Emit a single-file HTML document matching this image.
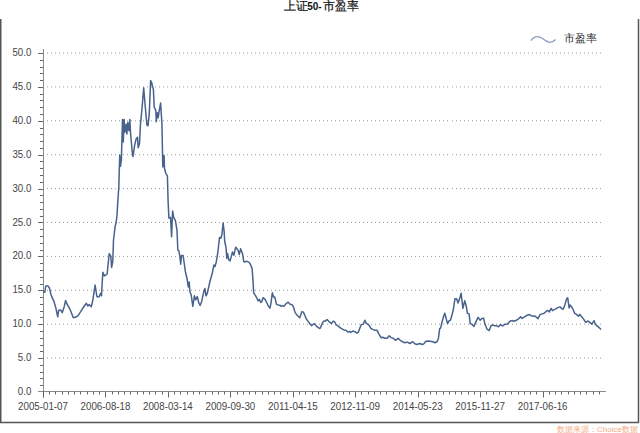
<!DOCTYPE html>
<html><head><meta charset="utf-8"><style>
html,body{margin:0;padding:0;background:#fff;width:640px;height:433px;overflow:hidden}
svg{display:block}
text{font-family:"Liberation Sans",sans-serif}
.yl{font-size:10.5px;fill:#454545}
.xl{font-size:10.2px;fill:#454545}
.lg{font-size:10.5px;fill:#333}
.tt{font-size:10px;font-weight:bold;fill:#111}
.tc{font-size:11.5px;font-weight:normal;fill:#111;stroke:#111;stroke-width:0.2px}
.src{font-size:8px;fill:#f2ab85}
</style></head><body>
<svg width="640" height="433" viewBox="0 0 640 433">
<path d="M0.75 19V422.5H638.5V19" fill="none" stroke="#555" stroke-width="1.5"/>
<path d="M47 358.10H450M452 358.10H601 M47 324.20H450M452 324.20H601 M47 290.30H450M452 290.30H601 M47 256.40H450M452 256.40H601 M47 222.50H450M452 222.50H601 M47 188.60H450M452 188.60H601 M47 154.70H450M452 154.70H601 M47 120.80H450M452 120.80H601 M47 86.90H450M452 86.90H601 M47 53.00H450M452 53.00H601" stroke="#999" stroke-width="1" stroke-dasharray="1 3" fill="none"/>
<path d="M43.5 49V391M38 391.5H606" stroke="#8a8a8a" stroke-width="1" fill="none"/>
<path d="M43.5 391V397.5 M40 385.5H43 M40 378.5H43 M40 372.5H43 M40 365.5H43 M38 358.5H43 M40 351.5H43 M40 345.5H43 M40 338.5H43 M40 331.5H43 M38 324.5H43 M40 317.5H43 M40 311.5H43 M40 304.5H43 M40 297.5H43 M38 290.5H43 M40 284.5H43 M40 277.5H43 M40 270.5H43 M40 263.5H43 M38 256.5H43 M40 250.5H43 M40 243.5H43 M40 236.5H43 M40 229.5H43 M38 222.5H43 M40 216.5H43 M40 209.5H43 M40 202.5H43 M40 195.5H43 M38 189.5H43 M40 182.5H43 M40 175.5H43 M40 168.5H43 M40 161.5H43 M38 155.5H43 M40 148.5H43 M40 141.5H43 M40 134.5H43 M40 128.5H43 M38 121.5H43 M40 114.5H43 M40 107.5H43 M40 100.5H43 M40 94.5H43 M38 87.5H43 M40 80.5H43 M40 73.5H43 M40 67.5H43 M40 60.5H43 M38 53.5H43 M43.5 391.5V397.5 M49.5 391.5V394.5 M55.5 391.5V394.5 M62.5 391.5V394.5 M68.5 391.5V394.5 M74.5 391.5V394.5 M80.5 391.5V394.5 M87.5 391.5V394.5 M93.5 391.5V394.5 M99.5 391.5V394.5 M105.5 391.5V397.5 M112.5 391.5V394.5 M118.5 391.5V394.5 M124.5 391.5V394.5 M130.5 391.5V394.5 M137.5 391.5V394.5 M143.5 391.5V394.5 M149.5 391.5V394.5 M155.5 391.5V394.5 M162.5 391.5V394.5 M168.5 391.5V397.5 M174.5 391.5V394.5 M180.5 391.5V394.5 M187.5 391.5V394.5 M193.5 391.5V394.5 M199.5 391.5V394.5 M205.5 391.5V394.5 M212.5 391.5V394.5 M218.5 391.5V394.5 M224.5 391.5V394.5 M230.5 391.5V397.5 M237.5 391.5V394.5 M243.5 391.5V394.5 M249.5 391.5V394.5 M255.5 391.5V394.5 M262.5 391.5V394.5 M268.5 391.5V394.5 M274.5 391.5V394.5 M280.5 391.5V394.5 M287.5 391.5V394.5 M293.5 391.5V397.5 M299.5 391.5V394.5 M305.5 391.5V394.5 M312.5 391.5V394.5 M318.5 391.5V394.5 M324.5 391.5V394.5 M330.5 391.5V394.5 M337.5 391.5V394.5 M343.5 391.5V394.5 M349.5 391.5V394.5 M355.5 391.5V397.5 M361.5 391.5V394.5 M368.5 391.5V394.5 M374.5 391.5V394.5 M380.5 391.5V394.5 M386.5 391.5V394.5 M393.5 391.5V394.5 M399.5 391.5V394.5 M405.5 391.5V394.5 M411.5 391.5V394.5 M418.5 391.5V397.5 M424.5 391.5V394.5 M430.5 391.5V394.5 M436.5 391.5V394.5 M443.5 391.5V394.5 M449.5 391.5V394.5 M455.5 391.5V394.5 M461.5 391.5V394.5 M468.5 391.5V394.5 M474.5 391.5V394.5 M480.5 391.5V397.5 M486.5 391.5V394.5 M493.5 391.5V394.5 M499.5 391.5V394.5 M505.5 391.5V394.5 M511.5 391.5V394.5 M518.5 391.5V394.5 M524.5 391.5V394.5 M530.5 391.5V394.5 M536.5 391.5V394.5 M543.5 391.5V397.5 M549.5 391.5V394.5 M555.5 391.5V394.5 M561.5 391.5V394.5 M568.5 391.5V394.5 M574.5 391.5V394.5 M580.5 391.5V394.5 M586.5 391.5V394.5 M593.5 391.5V394.5 M599.5 391.5V394.5" stroke="#666" stroke-width="1" fill="none"/>
<text x="31.3" y="395.0" text-anchor="end" class="yl" textLength="13.51" lengthAdjust="spacingAndGlyphs">0.0</text>
<text x="31.3" y="361.1" text-anchor="end" class="yl" textLength="13.51" lengthAdjust="spacingAndGlyphs">5.0</text>
<text x="31.3" y="327.2" text-anchor="end" class="yl" textLength="18.92" lengthAdjust="spacingAndGlyphs">10.0</text>
<text x="31.3" y="293.3" text-anchor="end" class="yl" textLength="18.92" lengthAdjust="spacingAndGlyphs">15.0</text>
<text x="31.3" y="259.4" text-anchor="end" class="yl" textLength="18.92" lengthAdjust="spacingAndGlyphs">20.0</text>
<text x="31.3" y="225.5" text-anchor="end" class="yl" textLength="18.92" lengthAdjust="spacingAndGlyphs">25.0</text>
<text x="31.3" y="191.6" text-anchor="end" class="yl" textLength="18.92" lengthAdjust="spacingAndGlyphs">30.0</text>
<text x="31.3" y="157.7" text-anchor="end" class="yl" textLength="18.92" lengthAdjust="spacingAndGlyphs">35.0</text>
<text x="31.3" y="123.8" text-anchor="end" class="yl" textLength="18.92" lengthAdjust="spacingAndGlyphs">40.0</text>
<text x="31.3" y="89.9" text-anchor="end" class="yl" textLength="18.92" lengthAdjust="spacingAndGlyphs">45.0</text>
<text x="31.3" y="56.0" text-anchor="end" class="yl" textLength="18.92" lengthAdjust="spacingAndGlyphs">50.0</text>
<text x="43.0" y="410.4" text-anchor="middle" class="xl" textLength="49.76" lengthAdjust="spacingAndGlyphs">2005-01-07</text>
<text x="105.5" y="410.4" text-anchor="middle" class="xl" textLength="49.76" lengthAdjust="spacingAndGlyphs">2006-08-18</text>
<text x="167.9" y="410.4" text-anchor="middle" class="xl" textLength="49.76" lengthAdjust="spacingAndGlyphs">2008-03-14</text>
<text x="230.4" y="410.4" text-anchor="middle" class="xl" textLength="49.76" lengthAdjust="spacingAndGlyphs">2009-09-30</text>
<text x="292.8" y="410.4" text-anchor="middle" class="xl" textLength="49.76" lengthAdjust="spacingAndGlyphs">2011-04-15</text>
<text x="355.2" y="410.4" text-anchor="middle" class="xl" textLength="49.76" lengthAdjust="spacingAndGlyphs">2012-11-09</text>
<text x="417.7" y="410.4" text-anchor="middle" class="xl" textLength="49.76" lengthAdjust="spacingAndGlyphs">2014-05-23</text>
<text x="480.2" y="410.4" text-anchor="middle" class="xl" textLength="49.76" lengthAdjust="spacingAndGlyphs">2015-11-27</text>
<text x="542.6" y="410.4" text-anchor="middle" class="xl" textLength="49.76" lengthAdjust="spacingAndGlyphs">2017-06-16</text>
<path d="M43.0 291.5 L44.8 292.2 L45.8 285.9 L48.0 285.9 L49.4 288.0 L51.1 295.0 L52.5 298.4 L53.9 301.2 L55.9 308.1 L57.7 316.8 L58.7 310.2 L60.5 309.9 L62.2 312.7 L64.2 306.7 L65.6 300.5 L67.0 304.0 L69.8 308.8 L73.3 317.8 L76.0 317.1 L78.1 315.7 L81.6 310.2 L84.3 306.0 L86.4 303.3 L87.8 306.0 L89.2 304.6 L91.3 306.7 L92.9 299.8 L95.1 285.0 L96.9 296.6 L99.0 296.9 L100.7 293.3 L101.5 295.8 L102.8 272.3 L104.4 275.9 L107.1 274.0 L109.2 253.7 L110.8 256.2 L111.6 267.5 L112.8 261.0 L113.5 240.0 L115.2 225.8 L116.1 222.9 L117.0 215.4 L117.8 201.5 L118.8 187.0 L119.3 170.0 L119.8 155.0 L120.4 166.3 L121.4 159.8 L122.5 119.4 L123.3 142.0 L124.1 119.4 L124.9 132.3 L126.2 124.2 L126.9 134.0 L127.8 122.6 L129.0 130.7 L129.8 119.4 L130.6 134.0 L132.2 151.7 L133.0 156.6 L134.6 145.3 L136.2 138.8 L137.5 137.2 L138.2 147.7 L139.5 143.6 L140.4 125.0 L142.0 108.8 L143.7 87.8 L145.3 107.2 L146.9 125.0 L148.0 125.8 L149.3 113.6 L150.6 80.5 L151.7 82.9 L152.5 86.2 L153.4 89.4 L154.2 107.2 L155.8 110.4 L156.3 121.7 L157.4 112.8 L158.2 117.7 L159.3 110.4 L160.6 103.1 L161.9 123.3 L162.5 152.3 L162.8 166.9 L164.1 155.6 L164.5 168.5 L165.8 173.3 L167.4 175.8 L168.1 201.2 L168.9 218.1 L170.5 217.3 L171.6 236.7 L172.6 210.9 L173.7 217.3 L175.4 220.6 L177.0 230.3 L177.8 249.7 L179.0 251.3 L179.8 256.2 L180.7 264.2 L181.5 255.4 L183.1 255.4 L183.9 261.0 L185.5 272.3 L187.1 278.8 L188.3 286.9 L189.2 282.0 L189.9 291.7 L191.2 295.0 L192.8 306.3 L194.4 295.8 L195.7 299.8 L197.3 296.6 L198.9 303.0 L200.1 305.5 L201.7 301.4 L203.8 291.7 L204.9 288.5 L206.0 295.8 L207.3 293.3 L209.8 282.0 L212.3 273.0 L213.9 265.0 L215.0 266.6 L216.3 261.7 L217.9 252.0 L219.5 237.5 L220.8 238.3 L222.0 234.2 L223.1 222.9 L224.1 231.0 L224.7 241.5 L226.0 247.2 L226.8 258.5 L227.6 253.6 L228.9 260.1 L230.1 260.9 L231.2 256.9 L232.5 252.0 L233.8 255.3 L235.7 247.2 L237.0 248.8 L238.1 250.4 L239.3 254.5 L240.6 248.8 L242.5 253.6 L243.8 261.7 L244.5 262.1 L246.5 261.3 L248.9 262.1 L250.5 264.5 L252.1 268.6 L252.9 279.1 L253.7 292.8 L255.4 295.3 L257.0 298.5 L258.1 300.9 L259.4 299.3 L260.7 302.5 L261.8 301.7 L263.0 297.7 L265.1 299.3 L266.7 302.5 L268.3 305.8 L269.9 308.2 L271.0 303.3 L272.3 292.8 L273.6 296.9 L274.8 296.9 L276.4 304.2 L277.8 304.9 L279.8 305.2 L281.2 306.3 L282.6 305.6 L284.0 306.3 L286.1 303.6 L288.2 302.2 L290.2 304.2 L292.3 304.9 L293.7 307.7 L295.1 312.6 L297.2 315.3 L299.7 317.7 L300.6 315.3 L302.0 311.6 L303.4 312.1 L304.8 315.3 L306.2 318.8 L308.3 321.6 L310.3 324.3 L311.7 325.7 L313.1 324.3 L314.5 323.6 L316.6 326.4 L318.6 327.8 L320.0 328.5 L321.4 325.7 L322.8 322.3 L324.2 320.9 L325.6 320.9 L327.0 319.5 L329.0 321.6 L331.4 323.4 L333.5 321.0 L334.8 322.0 L336.2 324.8 L338.3 326.2 L341.1 328.3 L343.9 329.9 L345.9 330.3 L348.0 332.1 L349.4 331.3 L350.8 332.4 L352.9 331.0 L354.9 331.7 L357.0 333.1 L358.4 332.1 L359.8 328.3 L361.2 324.8 L363.3 324.1 L364.9 320.2 L366.3 323.4 L367.7 324.1 L369.5 325.8 L370.9 328.3 L373.0 329.6 L375.0 330.3 L377.1 330.3 L378.8 333.8 L381.0 337.7 L382.7 337.3 L384.7 338.2 L387.1 338.3 L389.2 335.8 L391.2 337.6 L393.3 338.3 L395.4 340.3 L398.2 338.3 L400.2 340.3 L402.3 341.7 L405.1 342.7 L407.2 342.1 L409.9 343.5 L412.7 341.7 L414.8 343.8 L416.9 344.5 L419.6 343.5 L422.4 344.5 L423.8 343.8 L425.9 341.3 L428.0 341.0 L430.0 341.3 L432.8 341.7 L434.9 342.7 L437.0 341.7 L438.3 339.0 L439.7 328.6 L440.7 327.8 L442.1 321.6 L443.5 316.7 L444.8 313.3 L446.2 318.8 L447.6 323.6 L449.0 320.9 L450.4 320.2 L451.1 318.1 L453.2 310.5 L455.0 298.7 L456.6 298.7 L458.0 302.9 L459.4 299.4 L461.1 293.2 L462.9 308.4 L464.7 300.8 L466.3 306.3 L467.4 313.3 L469.1 313.9 L470.2 323.6 L471.9 324.3 L473.9 326.4 L476.0 321.6 L478.1 317.4 L480.2 320.2 L481.6 318.8 L483.6 318.1 L485.0 324.3 L487.1 329.2 L489.2 330.6 L491.0 325.7 L492.7 325.0 L494.7 325.7 L496.4 325.7 L498.5 326.8 L500.5 324.6 L502.6 326.0 L504.7 324.3 L507.5 324.1 L510.2 320.9 L512.3 320.5 L513.7 321.3 L516.5 320.2 L518.6 318.8 L520.6 316.7 L522.0 318.5 L524.1 317.1 L526.9 315.3 L529.6 314.6 L531.7 316.0 L535.2 316.3 L536.6 317.4 L538.0 318.8 L540.0 314.6 L542.1 313.9 L544.2 313.3 L546.3 311.2 L547.7 310.5 L549.3 311.9 L551.1 308.4 L552.5 310.6 L554.2 309.7 L556.2 308.6 L558.3 307.4 L560.0 306.9 L561.8 308.6 L563.2 309.2 L565.0 304.4 L566.6 298.9 L567.7 297.7 L569.1 307.9 L570.1 305.1 L571.9 307.2 L573.3 310.0 L574.7 313.4 L576.6 314.4 L578.4 316.2 L579.8 314.4 L581.9 316.9 L583.9 319.6 L585.7 322.4 L587.7 321.0 L589.9 322.4 L591.8 324.1 L594.1 320.7 L595.4 324.5 L597.1 325.9 L598.8 327.3 L601.0 329.6" fill="none" stroke="#48628c" stroke-width="1.5" stroke-linejoin="round"/>
<path d="M531 40.5 C534 36.5 538 35.5 542.5 38.5 C547 42 551 44.5 555.5 39.5" fill="none" stroke="#8a9cc0" stroke-width="1.3"/>
<text x="564.2" y="42" class="lg">市盈率</text>
<text x="284.4" y="10.2" class="tc">上</text>
<text x="296.1" y="10.2" class="tc">证</text>
<text x="307.2" y="10.2" class="tt">50-</text>
<text x="323.3" y="10.2" class="tc">市</text>
<text x="334.8" y="10.2" class="tc">盈</text>
<text x="346.5" y="10.2" class="tc">率</text>
<text x="638" y="432" text-anchor="end" class="src">数据来源：Choice数据</text>
</svg></body></html>
